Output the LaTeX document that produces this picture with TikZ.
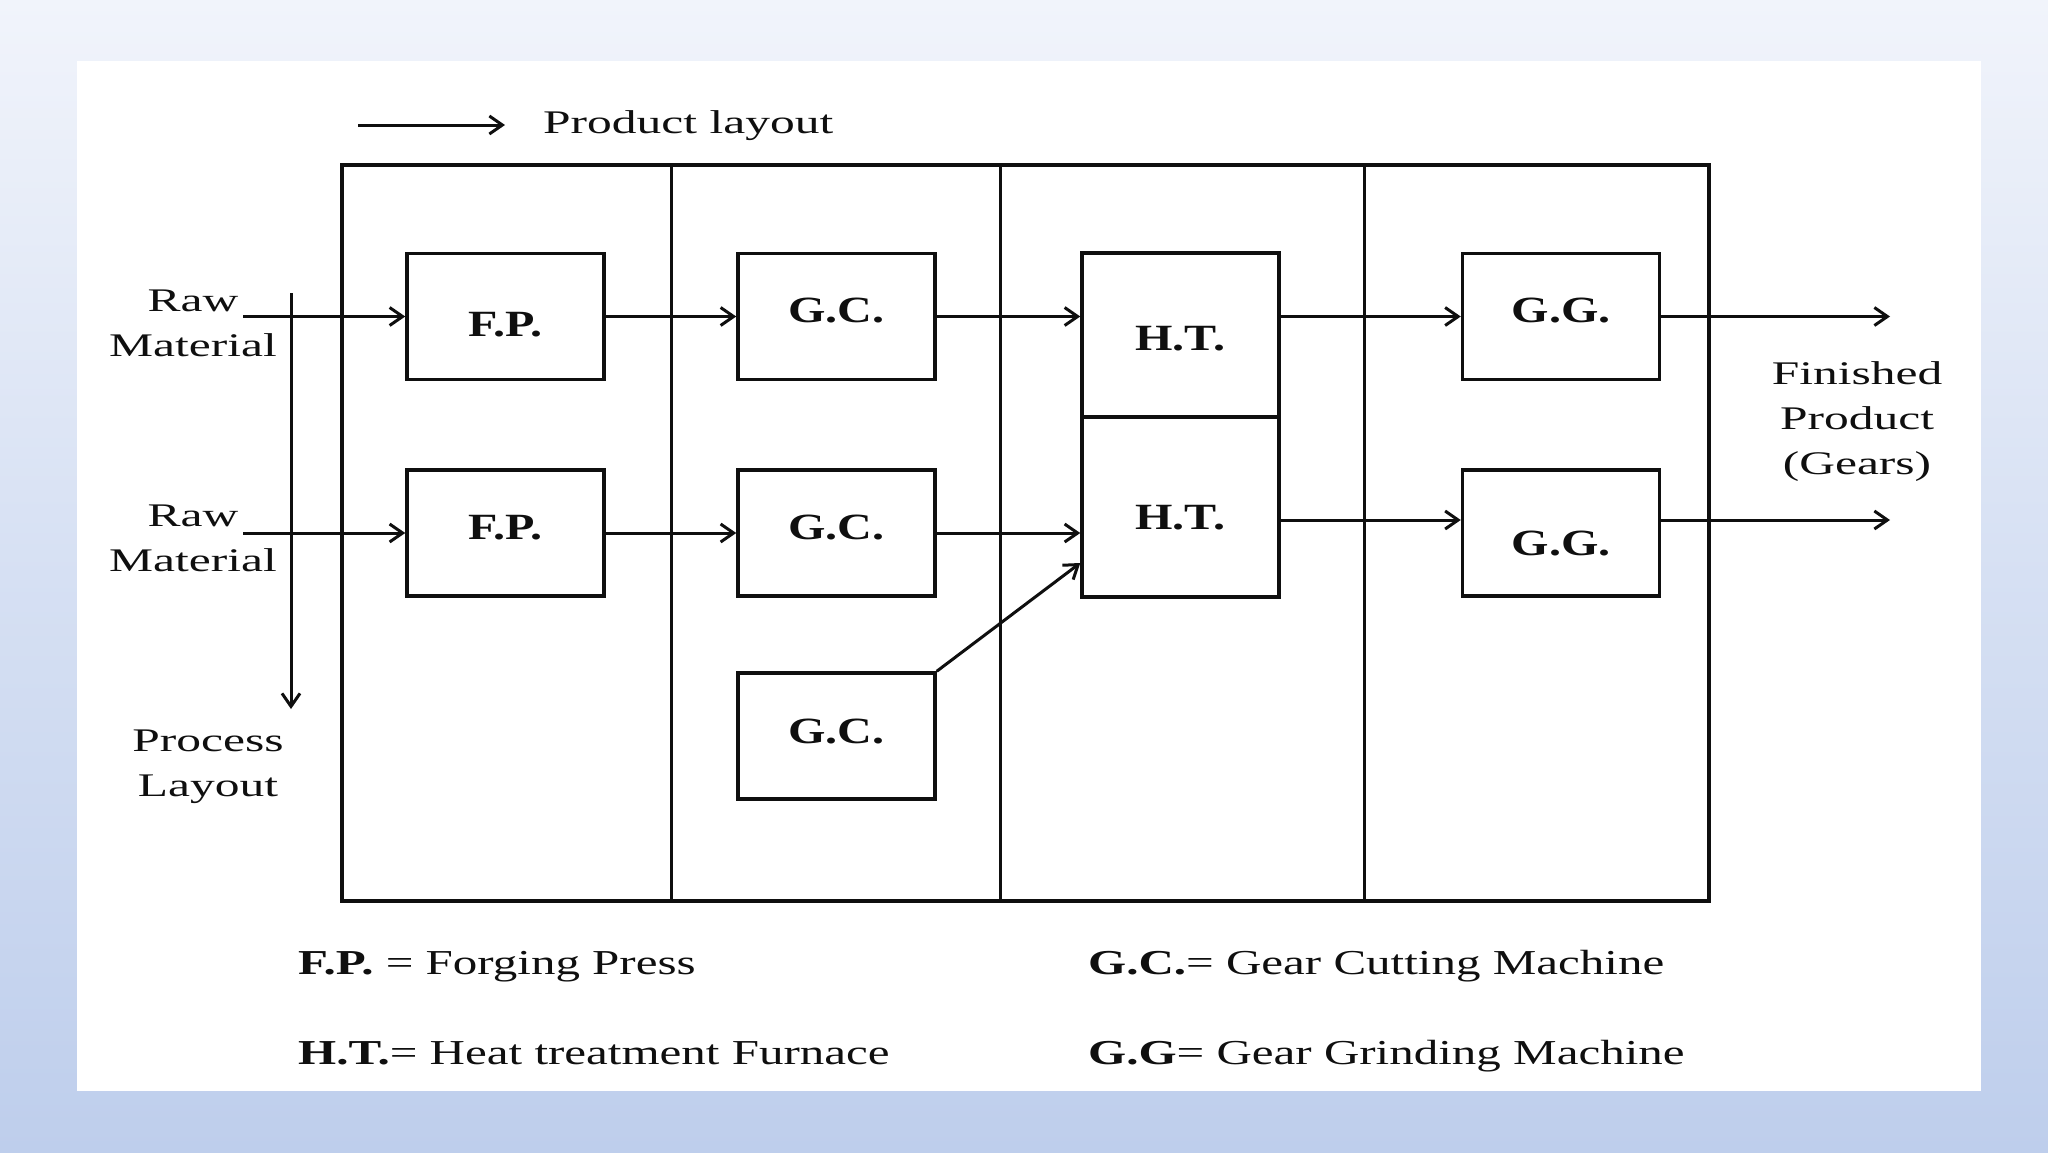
\documentclass[tikz,border=0pt]{standalone}
\usepackage{fontspec}
\setmainfont{Liberation Serif}
\newfontfamily\lblfont{Liberation Serif}[FakeStretch=1.5]
\newfontfamily\legfont{Liberation Serif}[FakeStretch=1.4]
\newfontfamily\boxfont{Liberation Serif}[FakeStretch=1.3]
\usetikzlibrary{arrows.meta}
\definecolor{bgtop}{RGB}{241,244,251}
\definecolor{bgmid}{RGB}{214,224,243}
\definecolor{bgbot}{RGB}{190,206,236}
\definecolor{ink}{RGB}{15,15,15}
\newcommand{\mlab}[2]{\raisebox{#1}[\height][\depth]{#2}}
\begin{document}
\begin{tikzpicture}[x=1pt,y=-1pt,
  frame/.style={draw=ink,line width=4pt},
  divline/.style={draw=ink,line width=3pt},
  mach/.style={draw=ink, line width=3.5pt, minimum width=197pt, minimum height=126pt, inner sep=0pt,
    font=\boxfont\bfseries\fontsize{37}{40}\selectfont, text=ink, anchor=center},
  flow/.style={draw=ink,line width=3pt, -{Straight Barb[length=13pt,width=18pt]}},
  lbl/.style={font=\lblfont\fontsize{33}{45}\selectfont, text=ink, align=center, inner sep=0pt},
  leg/.style={font=\legfont\fontsize{35}{40}\selectfont, text=ink, anchor=base west, inner sep=0pt}]
\useasboundingbox (0,0) rectangle (2048,1152);
% background
\shade[top color=bgtop, bottom color=bgbot, middle color=bgmid] (0,0) rectangle (2048,1152);
\fill[white] (77,61) rectangle (1981,1091);

% frame and columns
\draw[frame] (342,165) rectangle (1709,901);
\draw[divline] (671,165) -- (671,901);
\draw[divline] (1000,165) -- (1000,901);
\draw[divline] (1364,165) -- (1364,901);

% machines
\node[mach] (fp1) at (505.5,316.5) {\mlab{-8pt}{F.P.}};
\node[mach] (fp2) at (505.5,533) {\mlab{5pt}{F.P.}};
\node[mach] (gc1) at (836.5,316.5) {\mlab{6pt}{G.C.}};
\node[mach] (gc2) at (836.5,533) {\mlab{5pt}{G.C.}};
\node[mach] (gc3) at (836.5,736) {\mlab{5pt}{G.C.}};
\node[mach, minimum height=164pt] (ht1) at (1180.5,335) {\mlab{-4pt}{H.T.}};
\node[mach, minimum height=180pt] (ht2) at (1180.5,507) {\mlab{-11pt}{H.T.}};
\node[mach] (gg1) at (1561,316.5) {\mlab{6pt}{G.G.}};
\node[mach] (gg2) at (1561,533) {\mlab{-11pt}{G.G.}};

% helper coordinates
\coordinate (in1) at (243,316.5);
\coordinate (in2) at (243,533);
\coordinate (out1) at (1890,316.5);
\coordinate (out2) at (1890,520);
\coordinate (row2o) at (0,520);
\coordinate (diag) at (0,563);
\coordinate (ptop) at (291,293);
\coordinate (pbot) at (291,709);
\coordinate (pa1) at (358,125);
\coordinate (pa2) at (505,125);

% flows row 1
\draw[flow] (in1) -- (fp1.west);
\draw[flow] (fp1.east) -- (gc1.west);
\draw[flow] (gc1.east) -- (gc1.east -| ht1.west);
\draw[flow] (ht1.east |- gg1.west) -- (gg1.west);
\draw[flow] (gg1.east) -- (out1);
% flows row 2
\draw[flow] (in2) -- (fp2.west);
\draw[flow] (fp2.east) -- (gc2.west);
\draw[flow] (gc2.east) -- (gc2.east -| ht2.west);
\draw[flow] (ht2.east |- row2o) -- (gg2.west |- row2o);
\draw[flow] (gg2.east |- row2o) -- (out2);
% diagonal
\draw[flow] (gc3.north east) -- (ht2.west |- diag);

% process layout arrow
\draw[flow] (ptop) -- (pbot);
% product layout arrow
\draw[flow] (pa1) -- (pa2);

% labels
\node[lbl, anchor=base west] (prodlbl) at (543,133) {Product layout};
\node[lbl] (raw1) at (193,323) {Raw\\Material};
\node[lbl] (raw2) at (193,538) {Raw\\Material};
\node[lbl] (proc) at (208,767) {Process\\Layout};
\node[lbl] (fin) at (1857,422) {Finished\\Product\\(Gears)};

% legend
\node[leg] (lfp) at (298,974) {\textbf{F.P.} = Forging Press};
\node[leg] (lht) at (298,1064) {\textbf{H.T.}= Heat treatment Furnace};
\node[leg] (lgc) at (1088,974) {\textbf{G.C.}= Gear Cutting Machine};
\node[leg] (lgg) at (1088,1064) {\textbf{G.G}= Gear Grinding Machine};
\end{tikzpicture}
\end{document}
